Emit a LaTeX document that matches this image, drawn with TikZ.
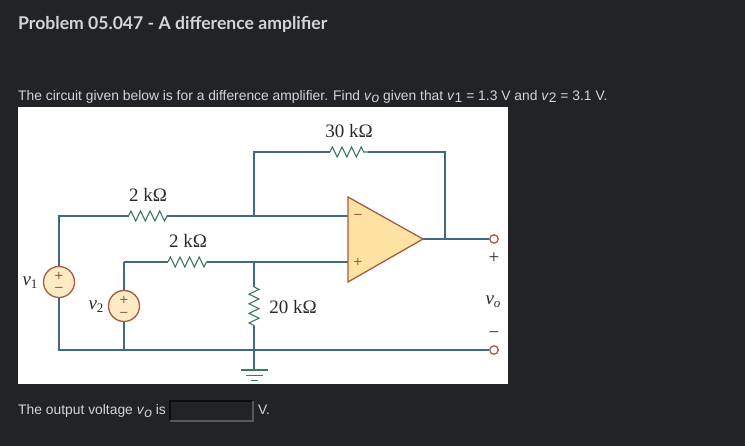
\documentclass[tikz,border=0pt]{standalone}
\usepackage{fontspec}
\setmainfont{Liberation Sans}
\newfontfamily\titlefont{Lato}
\newfontfamily\cktfont{Liberation Serif}
\newfontfamily\signfont{DejaVu Sans}
\usetikzlibrary{decorations.pathmorphing}
\definecolor{pagebg}{HTML}{212327}
\definecolor{pagetext}{HTML}{D2D4D6}
\definecolor{wirecol}{HTML}{3F6A85}
\definecolor{rescol}{HTML}{3A7A60}
\definecolor{ampfill}{HTML}{FDE2A2}
\definecolor{ampline}{HTML}{AA5A44}
\definecolor{srcfill}{HTML}{FDEBC4}
\definecolor{inkcol}{HTML}{2A2A2A}
\definecolor{boxdark}{HTML}{0C0D0E}
\definecolor{boxlight}{HTML}{55585A}
\tikzset{
  wire/.style={draw=wirecol,line width=1.2pt},
  thickwire/.style={draw=wirecol,line width=1.7pt},
  resistor/.style={draw=rescol,line width=1.1pt,decorate,decoration={zigzag,amplitude=5pt,segment length=9.6pt}},
  source/.style={circle,draw=ampline,fill=srcfill,line width=1.3pt,minimum size=31pt,inner sep=0pt},
  terminal/.style={circle,draw=ampline,fill=white,line width=1.3pt,minimum size=8.5pt,inner sep=0pt},
  pagetxt/.style={text=pagetext,anchor=base west,inner sep=0pt,font=\fontsize{13.85}{16}\selectfont},
  ckttxt/.style={text=inkcol,inner sep=0pt,font=\cktfont\fontsize{19}{21}\selectfont},
  signtxt/.style={text=ampline!85!black,inner sep=0pt,font=\signfont\fontsize{11.5}{12}\selectfont},
  gndtop/.style={draw=rescol,line width=1.7pt},
  gndlow/.style={draw=rescol,line width=1.2pt}
}
\newcommand{\subv}[1]{\textit{v}\raisebox{-3pt}{\fontsize{13}{13}\selectfont #1}}
\begin{document}
\begin{tikzpicture}[x=1pt,y=-1pt]
\path[use as bounding box,fill=pagebg] (0,0) rectangle (745,446);
\fill[white] (18,107) rectangle (508,384);
% page text
\node[text=pagetext,anchor=base west,inner sep=0pt,font=\titlefont\bfseries\fontsize{17.6}{20}\selectfont] (title) at (18,30) {Problem 05.047 - A difference amplifier};
\node[pagetxt] (intro) at (18,101) {The circuit given below is for a difference amplifier. Find \textit{v}\raisebox{-2pt}{\textit{o}} given that \textit{v}\raisebox{-2pt}{1} = 1.3 V and \textit{v}\raisebox{-2pt}{2} = 3.1 V.};
\node[pagetxt] (answer) at (18,415) {The output voltage \textit{v}\raisebox{-2pt}{\textit{o}} is};
\node[pagetxt] (unit) at (258,415) {V.};
% answer box
\fill[pagebg] (170,401) rectangle (253,421);
\draw[boxdark,line width=1.2pt] (170,421) -- (170,401) -- (253,401);
\draw[boxlight,line width=1.2pt] (170,421) -- (253,421) -- (253,401);
% coordinates
\coordinate (tl) at (59,216);
\coordinate (r1a) at (128.5,216);
\coordinate (r1b) at (167,216);
\coordinate (j1) at (254,216);
\coordinate (fbl) at (254,152);
\coordinate (r3a) at (330,152);
\coordinate (r3b) at (368,152);
\coordinate (fbr) at (445,152);
\coordinate (j2) at (445,239);
\coordinate (ampm) at (348,216);
\coordinate (ampp) at (348,262);
\coordinate (amptop) at (348,197);
\coordinate (ampbot) at (348,282);
\coordinate (ampout) at (423,239);
\coordinate (v2t) at (124,262);
\coordinate (r2a) at (168,262);
\coordinate (r2b) at (207,262);
\coordinate (j3) at (254,262);
\coordinate (r4a) at (254,287);
\coordinate (r4b) at (254,326);
\coordinate (j4) at (254,350);
\coordinate (gndpt) at (254,370);
\coordinate (bl) at (59,350);
\coordinate (j5) at (124,350);
% sources and terminals
\node[source] (v1) at (59,282) {};
\node[source] (v2) at (124,306) {};
\node[terminal] (outp) at (494,239) {};
\node[terminal] (outm) at (494,350) {};
% wires
\path[thickwire] (v1) -- (tl) -- (r1a);
\path[wire] (r1b) -- (ampm);
\path[wire] (j1) -- (fbl) -- (r3a);
\path[wire] (r3b) -- (fbr) -- (j2);
\path[thickwire] (ampout) -- (outp);
\path[thickwire] (v1) -- (bl) -- (j5);
\path[wire] (j5) -- (outm);
\path[thickwire] (v2) -- (v2t);
\path[thickwire] (v2) -- (j5);
\path[wire] (v2t) -- (r2a);
\path[wire] (r2b) -- (ampp);
\path[wire] (j3) -- (r4a);
\path[wire] (r4b) -- (gndpt);
% resistors
\path[resistor] (r1a) -- (r1b);
\path[resistor] (r2a) -- (r2b);
\path[resistor] (r3a) -- (r3b);
\path[resistor] (r4a) -- (r4b);
% op-amp
\path[fill=ampfill,draw=ampline,line width=1.3pt,line join=miter] (amptop) -- (ampout) -- (ampbot) -- cycle;
\node[signtxt] (ampminus) at (358,216) {−};
\node[signtxt] (ampplus) at (358,262) {+};
% source signs
\node[signtxt] (v1p) at (59,275.5) {+};
\node[signtxt] (v1m) at (59,289.5) {−};
\node[signtxt] (v2p) at (124,300) {+};
\node[signtxt] (v2m) at (124,314) {−};
% ground
\draw[gndtop] (241,370) -- (268,370);
\draw[gndlow] (246,375.5) -- (263,375.5);
\draw[gndlow] (251,380.5) -- (258,380.5);
% labels
\node[ckttxt] (l30) at (349,131) {30 kΩ};
\node[ckttxt] (l2a) at (148,195) {2 kΩ};
\node[ckttxt] (l2b) at (188,241) {2 kΩ};
\node[ckttxt] (l20) at (293,307) {20 kΩ};
\node[ckttxt] (lv1) at (30,283) {\subv{1}};
\node[ckttxt] (lv2) at (96,307) {\subv{2}};
\node[ckttxt] (lvo) at (493,302) {\subv{\textit{o}}};
\node[ckttxt] (lop) at (494,258) {+};
\node[ckttxt] (lom) at (494,335) {\textminus};
\end{tikzpicture}
\end{document}
